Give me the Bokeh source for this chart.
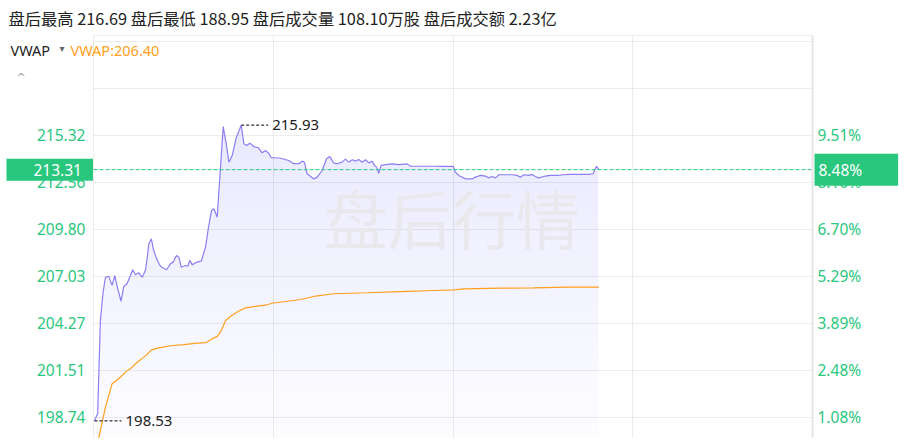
import numpy as np
from bokeh.plotting import figure
from bokeh.models import (Label, LinearAxis, FixedTicker)
from bokeh.embed import file_html
from bokeh.resources import INLINE

# ---------------- data ----------------
# minutes after 16:00 (after-hours session 16:00-20:00)
price_t = [0.33, 1.4, 2.3, 3.2, 4.0, 5.1, 6.2, 7.1, 8.1, 9.2, 10.1, 11.2, 13.1, 14.0, 15.1, 16.3, 17.4,
           18.5, 19.3, 20.1, 21.3, 22.4, 24.4, 25.7, 26.6, 27.7, 28.5, 29.3, 30.7, 31.5, 32.1, 33.0,
           34.4, 36.0, 37.4, 38.3, 39.4, 40.2, 41.3, 42.1, 43.3, 44.3, 45.2, 46.3, 47.7, 49.3, 50.2,
           51.1, 52.2, 53.5, 55.0, 56.3, 57.4, 58.5, 59.3, 60.7, 62.4, 65.2, 66.9, 68.5, 69.7, 70.4,
           71.3, 73.5, 74.7, 76.3, 77.8, 78.9, 80.2, 81.3, 83.0, 84.1, 85.2, 86.4, 87.5, 88.5, 89.7,
           90.8, 91.9, 93.0, 93.8, 94.5, 95.2, 96.0, 97.5, 99.7, 101.9, 104.7, 105.8, 109.1, 113.6,
           116.9, 120.1, 120.8, 121.9, 124.2, 126.4, 127.5, 129.2, 130.8, 131.9, 133.1, 134.2, 135.3,
           137.5, 139.8, 141.4, 142.5, 143.6, 145.3, 146.4, 147.5, 148.6, 150.3, 152.5, 154.8, 157.0,
           159.2, 162.6, 165.3, 166.8, 167.3, 167.9, 168.7]
price_v = [198.53, 198.98, 204.44, 206.10, 206.98, 207.03, 206.50, 207.08, 206.30, 205.57, 206.44,
           206.60, 207.42, 207.13, 207.24, 206.98, 207.42, 208.95, 209.24, 208.55, 207.97, 207.61,
           207.42, 207.77, 207.87, 208.26, 208.16, 207.57, 207.67, 207.63, 207.97, 207.71, 207.87,
           207.93, 208.75, 209.83, 210.91, 211.01, 210.51, 212.67, 215.85, 214.83, 213.75, 214.14,
           215.22, 215.93, 214.83, 214.73, 214.87, 214.67, 214.60, 214.30, 214.44, 214.28, 214.01,
           214.01, 213.98, 213.85, 213.66, 213.66, 213.81, 213.75, 213.07, 212.77, 212.87, 213.26,
           213.95, 214.08, 213.69, 213.66, 213.75, 213.93, 213.75, 213.89, 213.81, 213.91, 213.75,
           213.89, 213.71, 213.81, 213.56, 213.46, 213.10, 213.56, 213.61, 213.65, 213.61, 213.65,
           213.51, 213.51, 213.51, 213.50, 213.50, 213.16, 212.97, 212.77, 212.77, 212.87, 212.97,
           212.93, 212.83, 212.91, 212.83, 213.01, 213.01, 213.01, 212.97, 212.87, 213.01, 212.97,
           213.03, 212.91, 212.83, 212.91, 212.97, 212.97, 213.01, 213.03, 213.03, 213.03, 213.07,
           213.30, 213.50, 213.31]

vwap_t = [0.33, 2.3, 4.0, 6.2, 8.4, 10.7, 12.9, 14.6, 16.8, 17.9, 19.3, 21.8, 25.7, 30.1, 34.6, 37.7,
          39.6, 41.3, 42.4, 44.1, 45.7, 48.2, 50.7, 54.6, 58.0, 59.6, 63.5, 69.1, 73.5, 80.2, 91.4,
          102.5, 113.6, 120.3, 123.6, 135.9, 147.0, 158.1, 168.7]
vwap_v = [196.40, 197.97, 199.34, 200.71, 201.01, 201.40, 201.69, 201.98, 202.28, 202.44, 202.71,
          202.83, 202.95, 203.02, 203.10, 203.14, 203.36, 203.50, 203.75, 204.44, 204.67, 204.97,
          205.18, 205.28, 205.36, 205.45, 205.54, 205.67, 205.85, 206.01, 206.07, 206.14, 206.20,
          206.24, 206.30, 206.34, 206.36, 206.40, 206.40]

y_ticks = [198.74, 201.51, 204.27, 207.03, 209.80, 212.56, 215.32, 218.08, 220.85]
y_tick_labels = ["198.74", "201.51", "204.27", "207.03", "209.80", "212.56", "215.32", "", ""]
pct_tick_labels = ["1.08%", "2.48%", "3.89%", "5.29%", "6.70%", "8.10%", "9.51%", "", ""]
x_ticks = [0, 60, 120, 180, 240]

last_price = 213.31
last_price_label = "213.31"
last_pct_label = "8.48%"
vwap_label = "VWAP:206.40"
header_text = "盘后最高 216.69 盘后最低 188.95 盘后成交量 108.10万股 盘后成交额 2.23亿"
watermark = "盘后行情"

# ---------------- style ----------------
FONT = "Noto Sans CJK SC"
NUMFONT = "Noto Sans"
GREEN = "#29c77d"
PURPLE = "#8b7df2"
FILL = "#6f63ea"
ORANGE = "#ff9f1c"
GRID = "#ececec"

W, H = 899, 438
# session window (minutes) and visible price window of the chart panel
T0, T1 = 0, 240
P_TOP = 221.203
# canvas-wide ranges so that the panel sits at x 93..812, y 35..bottom
X_RANGE = (-31.043, 269.04)
Y_RANGE = (197.494, 223.262)

p = figure(width=W, height=H, x_range=X_RANGE, y_range=Y_RANGE,
           output_backend="svg", toolbar_location=None,
           x_axis_location=None, y_axis_location="left",
           min_border_left=0, min_border_right=0, min_border_top=0, min_border_bottom=0)
p.outline_line_color = None
p.background_fill_color = "white"
p.border_fill_color = "white"

# grids, limited to the chart panel
p.ygrid.ticker = FixedTicker(ticks=y_ticks + [P_TOP])
p.ygrid.grid_line_color = GRID
p.ygrid.cross_bounds = (T0, T1)
p.xgrid.ticker = FixedTicker(ticks=x_ticks)
p.xgrid.grid_line_color = GRID
p.xgrid.cross_bounds = (Y_RANGE[0], P_TOP)

# axes (fixed at the panel edges)
la = p.yaxis[0]
la.fixed_location = T0
la.ticker = FixedTicker(ticks=y_ticks)
la.major_label_overrides = {t: s for t, s in zip(y_ticks, y_tick_labels)}
ra = LinearAxis(ticker=FixedTicker(ticks=y_ticks), fixed_location=T1,
                major_label_overrides={t: s for t, s in zip(y_ticks, pct_tick_labels)})
p.add_layout(ra, "right")
for ax in (la, ra):
    ax.major_tick_line_color = None
    ax.minor_tick_line_color = None
    ax.major_tick_out = 0
    ax.major_tick_in = 0
    ax.major_label_text_color = GREEN
    ax.major_label_text_font = NUMFONT
    ax.major_label_text_font_size = "15.5px"
    ax.bounds = (Y_RANGE[0], P_TOP)
la.major_label_standoff = 8
ra.major_label_standoff = 5
la.axis_line_color = None
ra.axis_line_color = "#e6e6e6"
ra.axis_line_width = 2

# gradient fill under price line (stacked translucent layers)
pt = np.array(price_t)
pv = np.array(price_v)
levels = np.linspace(Y_RANGE[0], 216.0, 20)
for i, lo in enumerate(levels):
    a = 0.02 if i == 0 else 0.0045
    p.varea(x=pt, y1=np.full_like(pv, lo), y2=np.maximum(pv, lo),
            fill_color=FILL, fill_alpha=a)

# watermark
p.add_layout(Label(x=119.6, y=210.56, text=watermark, text_align="center", text_baseline="middle",
                   text_font=FONT, text_font_size="64px", text_color="#e9e9ed"))

# lines
p.line(vwap_t, vwap_v, line_color=ORANGE, line_width=1.2)
p.line(price_t, price_v, line_color=PURPLE, line_width=1.2)

# current price line across the panel
p.segment(x0=[T0], y0=[last_price], x1=[T1], y1=[last_price], line_color=GREEN,
          line_dash="4 2", line_width=1)

# max / min annotations
px_per_min = 719 / (T1 - T0)
imax = int(np.argmax(pv))
imin = int(np.argmin(pv))
for idx in (imax, imin):
    p.segment(x0=[pt[idx]], y0=[pv[idx]], x1=[pt[idx] + 27 / px_per_min], y1=[pv[idx]],
              line_color="black", line_dash="3 2", line_width=1)
    p.add_layout(Label(x=pt[idx], y=pv[idx], x_offset=31, text=f"{pv[idx]:.2f}",
                       text_baseline="middle", text_font=NUMFONT, text_font_size="15px",
                       text_color="#222222"))

# boxes for current price
p.add_layout(Label(x=6, y=last_price, x_units="canvas", text=last_price_label,
                   text_align="left", text_baseline="middle", text_font=NUMFONT,
                   text_font_size="15.5px", text_color="white",
                   background_fill_color=GREEN,
                   padding=dict(left=27, right=11, top=5, bottom=5)))
p.add_layout(Label(x=814, y=last_price, x_units="canvas", text=last_pct_label,
                   text_align="left", text_baseline="middle", text_font=NUMFONT,
                   text_font_size="15.5px", text_color="white",
                   background_fill_color=GREEN,
                   padding=dict(left=4, right=36, top=5, bottom=5)))

# header texts (canvas units: pixels from top-left)
p.add_layout(Label(x=8, y=17, x_units="canvas", y_units="canvas", text=header_text,
                   text_baseline="middle", text_font=FONT, text_font_size="16.3px",
                   text_color="#222222"))
p.add_layout(Label(x=10, y=49, x_units="canvas", y_units="canvas", text="VWAP",
                   text_baseline="middle", text_font=NUMFONT, text_font_size="14.5px",
                   text_color="#222222"))
p.add_layout(Label(x=59, y=48, x_units="canvas", y_units="canvas", text="▾",
                   text_baseline="middle", text_font="DejaVu Sans", text_font_size="10px",
                   text_color="#666666"))
p.add_layout(Label(x=70, y=49, x_units="canvas", y_units="canvas", text=vwap_label,
                   text_baseline="middle", text_font=NUMFONT, text_font_size="14.5px",
                   text_color=ORANGE))
p.add_layout(Label(x=16, y=77, x_units="canvas", y_units="canvas", text="^",
                   text_baseline="middle", text_font="DejaVu Sans", text_font_size="11px",
                   text_color="#999999"))

open("out.html", "w").write(file_html(p, INLINE))
